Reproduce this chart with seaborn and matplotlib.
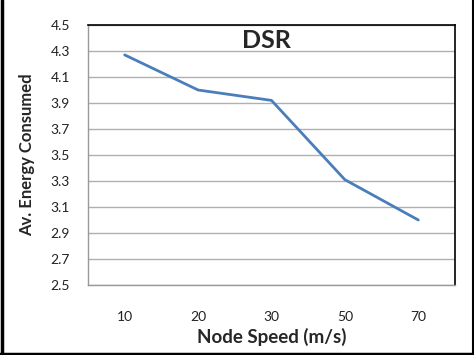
import numpy as np
import pandas as pd
import matplotlib
matplotlib.use("Agg")
import matplotlib.pyplot as plt
import seaborn as sns

# Dados
velocidades = ["10", "20", "30", "50", "70"]
energia = [4.27, 4.00, 3.92, 3.31, 3.00]
y_ticks = [2.5, 2.7, 2.9, 3.1, 3.3, 3.5, 3.7, 3.9, 4.1, 4.3, 4.5]

df = pd.DataFrame({"velocidade": velocidades, "energia": energia})

sns.set_style("white")
plt.rcParams["font.family"] = ["Lato", "DejaVu Sans"]

fig = plt.figure(figsize=(4.74, 3.55), dpi=100)
ax = fig.add_axes([88 / 474, 1 - 285 / 355, (455 - 88) / 474, (285 - 25) / 355])

sns.lineplot(data=df, x="velocidade", y="energia", ax=ax,
             color="#4a7ebb", linewidth=2.0, sort=False)

ax.set_xlim(-0.5, len(velocidades) - 0.5)
ax.set_ylim(2.5, 4.5)
ax.set_yticks(y_ticks)
ax.set_yticklabels([f"{v:.1f}" for v in y_ticks], fontsize=10, color="#222222")
ax.set_xticks(range(len(velocidades)))
ax.set_xticklabels(velocidades, fontsize=10, color="#222222")
ax.set_xticks(np.arange(-0.5, len(velocidades), 1.0), minor=True)
ax.tick_params(axis="x", which="major", length=0, pad=19)
ax.tick_params(axis="x", which="minor", length=5, color="#999999", width=1, direction="out")
ax.tick_params(axis="y", length=4, color="#999999", width=1, direction="out", pad=9)

ax.grid(axis="y", color="#b0b0b0", linewidth=1)
ax.set_axisbelow(True)

for lado in ["top", "right"]:
    ax.spines[lado].set_color("black")
    ax.spines[lado].set_linewidth(1.2)
for lado in ["left", "bottom"]:
    ax.spines[lado].set_color("#999999")
    ax.spines[lado].set_linewidth(1)

ax.set_xlabel("Node Speed (m/s)", fontsize=13.5, fontweight="bold", labelpad=3)
ax.set_ylabel("Av. Energy Consumed", fontsize=12, fontweight="bold", labelpad=11)
ax.text(0.485, 0.94, "DSR", transform=ax.transAxes, ha="center", va="center",
        fontsize=18, fontweight="bold")

# Moldura externa
fig.add_artist(plt.Line2D([1.5 / 474, 1.5 / 474], [0, 1], color="black", linewidth=2.5, transform=fig.transFigure))
fig.add_artist(plt.Line2D([472.5 / 474, 472.5 / 474], [0, 1], color="black", linewidth=1.5, transform=fig.transFigure))
fig.add_artist(plt.Line2D([0, 1], [1.5 / 355, 1.5 / 355], color="black", linewidth=2.5, transform=fig.transFigure))

fig.savefig("out.png", dpi=100)
